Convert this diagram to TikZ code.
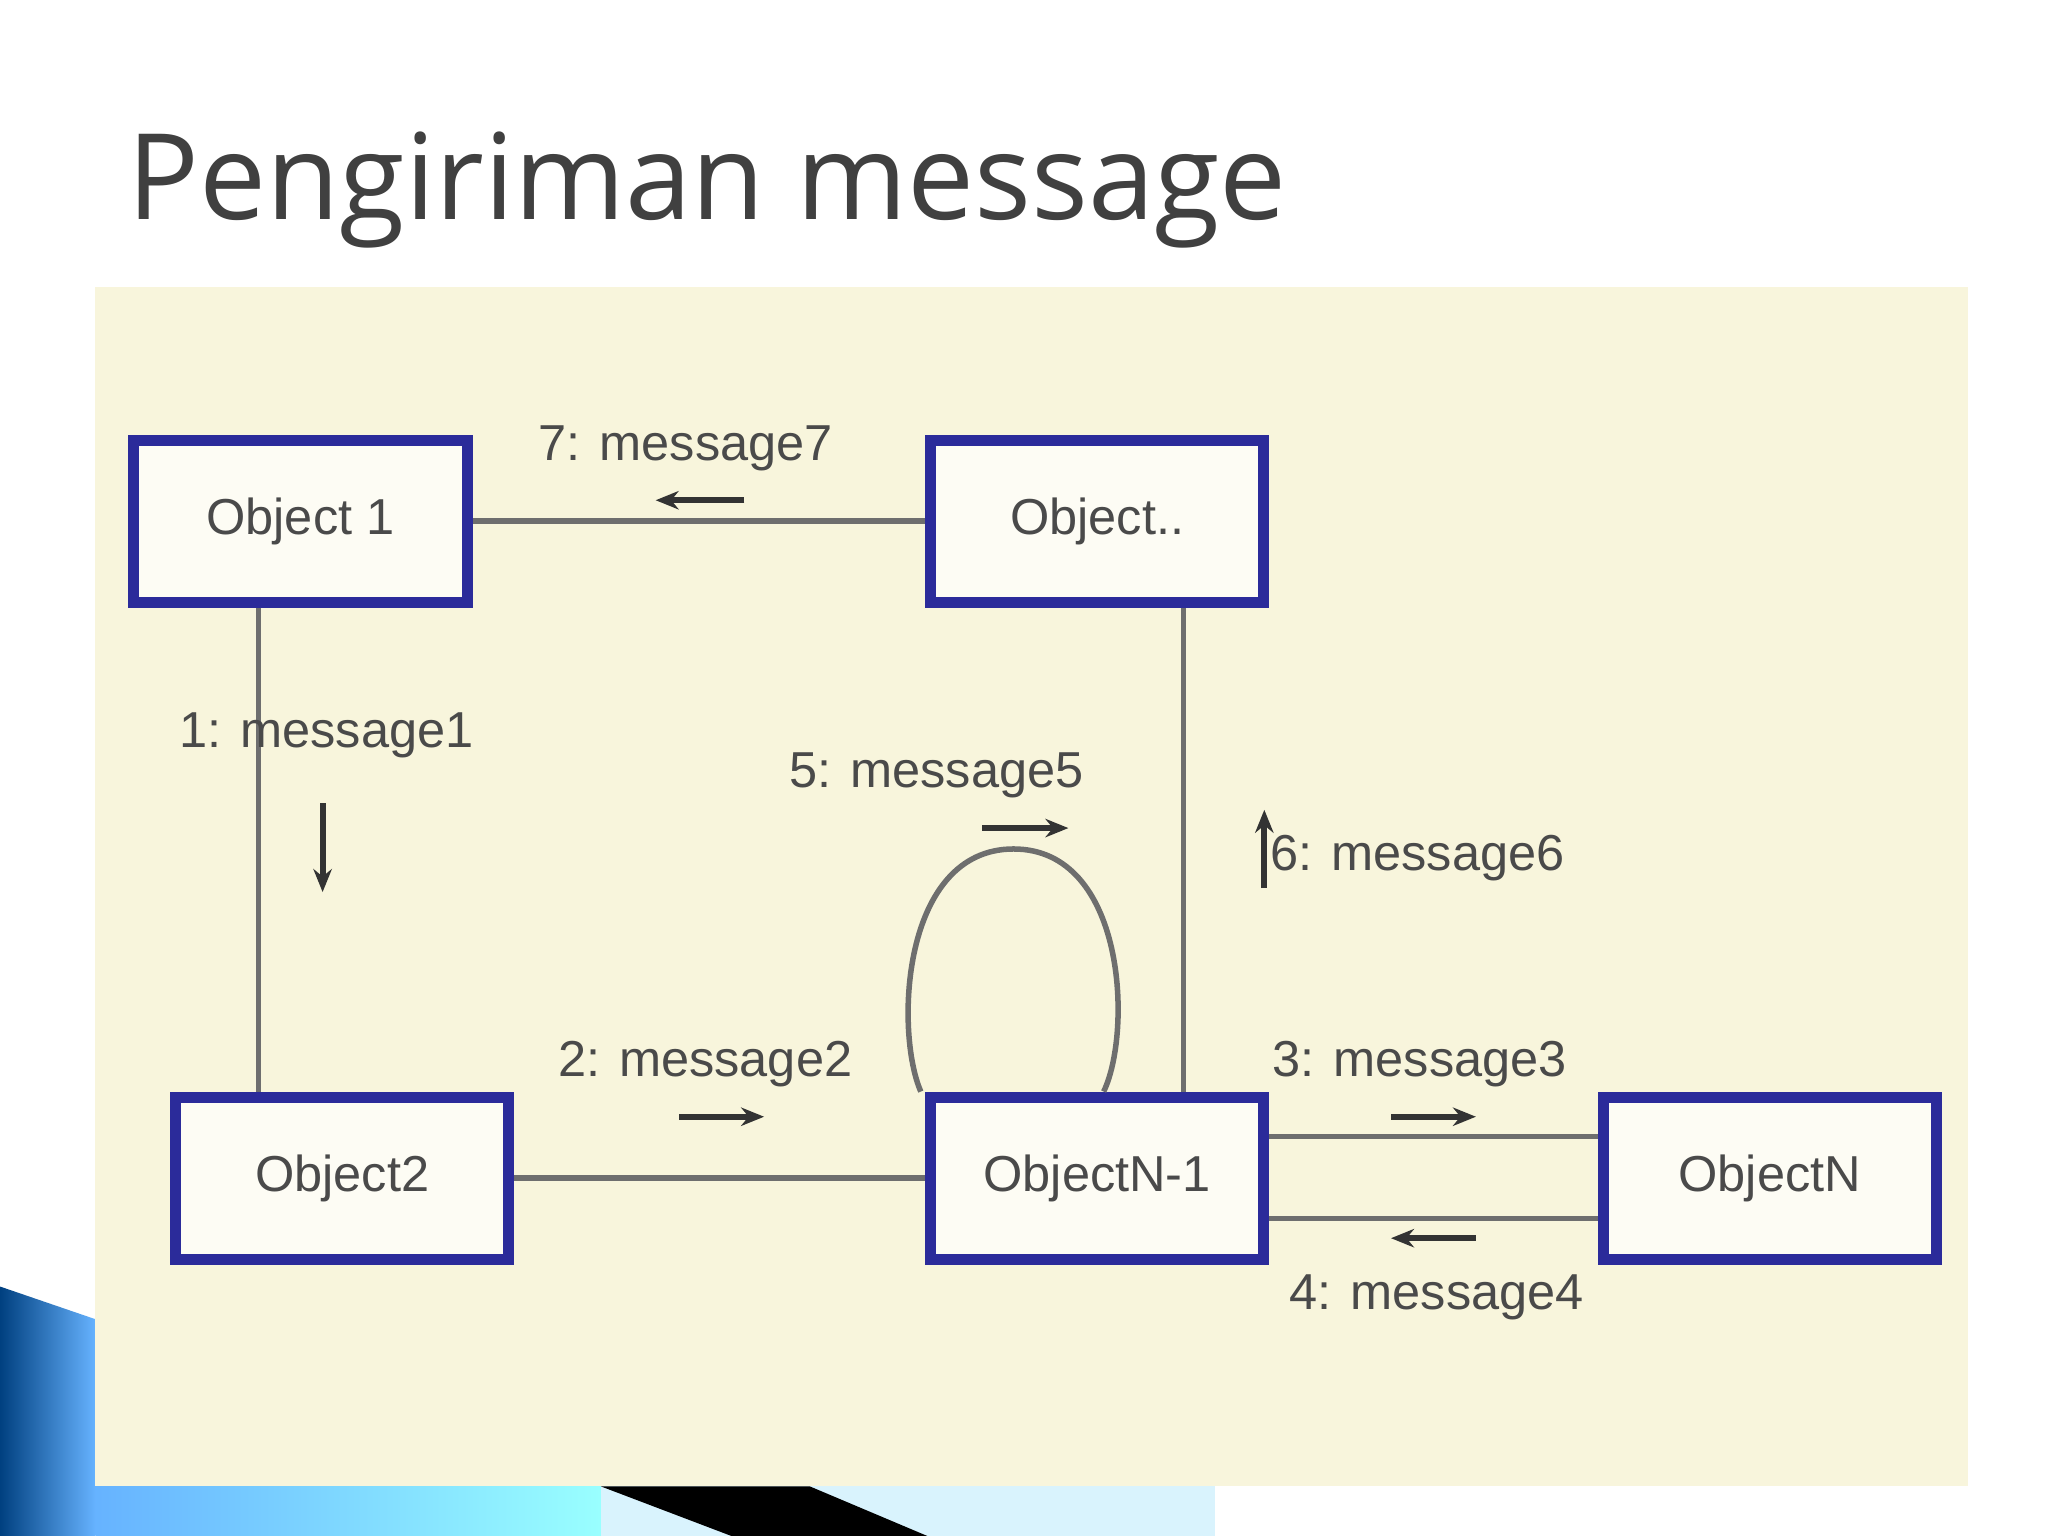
\documentclass[tikz,border=0pt]{standalone}
\usepackage{fontspec}
\setmainfont{Liberation Sans}
\newfontfamily\titlefont{Open Sans}
\usetikzlibrary{arrows.meta,shadings}
\definecolor{panel}{HTML}{F8F5DC}
\definecolor{boxblue}{HTML}{2B2B9A}
\definecolor{lin}{HTML}{6E6E6E}
\definecolor{txt}{HTML}{4A4A4A}
\tikzset{
 obj/.style={draw=boxblue,line width=2.4pt,fill=white!70!panel,minimum width=2.55cm,minimum height=1.24cm,inner sep=0pt,font=\fontsize{11}{13}\selectfont,text=txt},
 conn/.style={draw=lin,line width=1.2pt},
 lbl/.style={font=\fontsize{11}{13}\selectfont,text=txt,inner sep=0pt},
 marr/.style={-{Stealth[length=5pt,width=4pt]},line width=1.3pt,black!80}
}
\begin{document}
\begin{tikzpicture}[x=0.01cm,y=-0.01cm]
\useasboundingbox (0,0) rectangle (1568,1176);
\fill[white] (0,0) rectangle (1568,1176);
% decoration
\shade[left color=blue!50!cyan!50!black,right color=cyan!50!blue!60] (0,985) -- (73,1010) -- (73,1176) -- (0,1176) -- cycle;
\fill[cyan!15!white] (460,1138) -- (930,1138) -- (930,1176) -- (460,1176) -- cycle;
\shade[left color=cyan!50!blue!60,right color=cyan!40] (73,1138) rectangle (460,1176);
\fill[black] (460,1138) -- (620,1138) -- (710,1176) -- (560,1176) -- cycle;
% title
\node[anchor=base west,inner sep=0pt,font=\titlefont\fontsize{26}{30}\selectfont,text=black!75] (title) at (97,168) {Pengiriman message};
% panel
\fill[panel] (73,220) rectangle (1507,1138);
% objects
\node[obj] (o1) at (230,399) {Object 1};
\node[obj] (od) at (840,399) {Object..};
\node[obj] (o2) at (262,902) {Object2};
\node[obj] (on1) at (840,902) {ObjectN-1};
\node[obj] (on) at (1355,902) {ObjectN};
% connectors
\draw[conn] (o1.east) -- (od.west);
\draw[conn] (o1.south -| 198,0) -- (o2.north -| 198,0);
\draw[conn] (o2.east) -- (on1.west);
\draw[conn] (od.south -| 906,0) -- (on1.north -| 906,0);
\draw[conn] (on1.east |- 0,870) -- (on.west |- 0,870);
\draw[conn] (on1.east |- 0,933) -- (on.west |- 0,933);
\draw[conn] (on1.north -| 705,0) .. controls (685,790) and (690,650) .. (776,650) .. controls (862,650) and (867,790) .. (on1.north -| 845,0);
% labels
\node[lbl] (l7) at (525,343) {7: message7};
\node[lbl] (l1) at (250,563) {1: message1};
\node[lbl] (l5) at (717,594) {5: message5};
\node[lbl,anchor=west] (l6) at (972,657) {6: message6};
\node[lbl] (l2) at (540,815) {2: message2};
\node[lbl] (l3) at (1087,815) {3: message3};
\node[lbl] (l4) at (1100,993) {4: message4};
% arrows
\draw[marr] (570,383) -- (502,383);
\draw[marr] (247,615) -- (247,683);
\draw[marr] (752,634) -- (818,634);
\draw[marr] (968,680) -- (968,620);
\draw[marr] (520,855) -- (585,855);
\draw[marr] (1065,855) -- (1130,855);
\draw[marr] (1130,948) -- (1065,948);
\end{tikzpicture}
\end{document}
